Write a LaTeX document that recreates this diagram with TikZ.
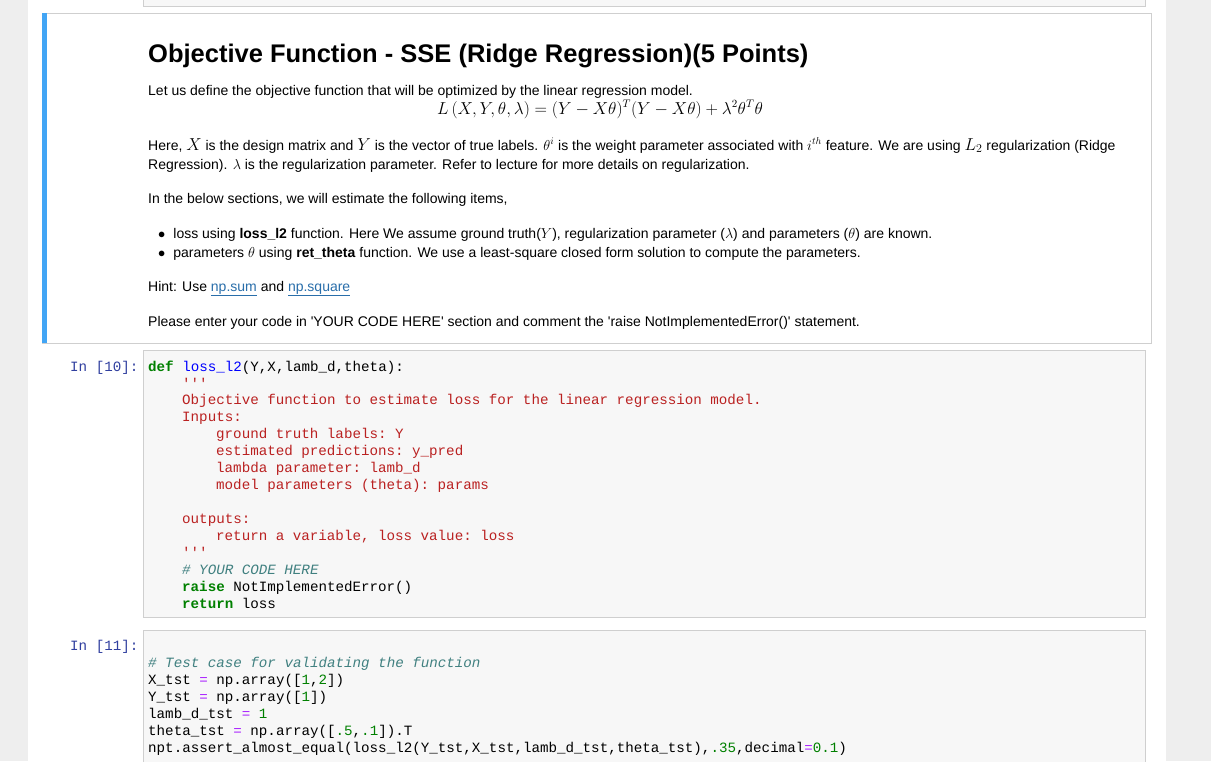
\documentclass[tikz,border=0pt]{standalone}
\usepackage{fontspec}
\setmainfont{Liberation Sans}
\setmonofont{Liberation Mono}
\definecolor{pagebg}{HTML}{EEEEEE}
\definecolor{cellbg}{HTML}{F7F7F7}
\definecolor{cellbd}{HTML}{CFCFCF}
\definecolor{kw}{HTML}{008000}
\definecolor{fn}{HTML}{0000FF}
\definecolor{doc}{HTML}{BA2121}
\definecolor{cmt}{HTML}{408080}
\definecolor{op}{HTML}{AA22FF}
\definecolor{prompt}{HTML}{303F9F}
\definecolor{lnk}{HTML}{296EAA}
\definecolor{bar}{HTML}{42A5F5}
\newcommand{\kw}[1]{\textcolor{kw}{\textbf{#1}}}
\newcommand{\op}[1]{\textcolor{op}{#1}}
\newcommand{\nm}[1]{\textcolor{kw}{#1}}
\newcommand{\sq}{\textquotesingle}
\tikzset{
  txt/.style={anchor=base west,inner sep=0pt,font=\fontsize{14}{17}\selectfont},
  code/.style={anchor=base west,inner sep=0pt,font=\fontsize{14.2}{17}\ttfamily},
  prm/.style={anchor=base west,inner sep=0pt,font=\fontsize{14.2}{17}\ttfamily,text=prompt},
  cellbox/.style={draw=cellbd,fill=cellbg,line width=0.8pt}
}
\begin{document}
\begin{tikzpicture}[x=1pt,y=-1pt]
\useasboundingbox (0,0) rectangle (1211,761);
\fill[pagebg] (0,0) rectangle (1211,761);
\fill[white] (28,0) rectangle (1166,761);
% top cell remnant
\draw[cellbox] (143,-5) rectangle (1145,6);
% markdown cell
\draw[draw=cellbd,fill=white,line width=0.8pt] (42,13) rectangle (1151,343);
\fill[bar] (42,13) rectangle (47,343);
\node[anchor=base west,inner sep=0pt,font=\fontsize{25.5}{30}\bfseries] (h) at (148,62) {Objective Function - SSE (Ridge Regression)(5 Points)};
\node[txt] (t1) at (148,95) {Let us define the objective function that will be optimized by the linear regression model.};
\node[anchor=base,inner sep=0pt,font=\fontsize{16}{19}\selectfont] (eq) at (600,114) {$L\left(X,Y,\theta,\lambda\right) = (Y-X\theta)^T(Y-X\theta)+\lambda^2\theta^T\theta$};
\node[txt] (t2) at (148,150) {Here, {\fontsize{17}{17}\selectfont$X$} is the design matrix and {\fontsize{17}{17}\selectfont$Y$} is the vector of true labels. $\theta^i$ is the weight parameter associated with $i^{th}$ feature. We are using {\fontsize{17}{17}\selectfont$L_2$} regularization (Ridge};
\node[txt] (t3) at (148,169) {Regression). $\lambda$ is the regularization parameter. Refer to lecture for more details on regularization.};
\node[txt] (t4) at (148,203) {In the below sections, we will estimate the following items,};
\node[txt] (b1) at (158,238) {$\bullet$\hspace{8pt}loss using \textbf{loss\_l2} function. Here We assume ground truth($Y$), regularization parameter ($\lambda$) and parameters ($\theta$) are known.};
\node[txt] (b2) at (158,257) {$\bullet$\hspace{8pt}parameters $\theta$ using \textbf{ret\_theta} function. We use a least-square closed form solution to compute the parameters.};
\node[txt] (t5) at (148,291) {Hint: Use \textcolor{lnk}{\underline{np.sum}} and \textcolor{lnk}{\underline{np.square}}};
\node[txt] (t6) at (148,326) {Please enter your code in \sq YOUR CODE HERE\sq{} section and comment the \sq raise NotImplementedError()\sq{} statement.};
% code cell 1
\draw[cellbox] (143,350) rectangle (1145,617);
\node[prm] (p1) at (70,371) {In [10]:};
\node[code] (c1) at (148,371) {\kw{def} \textcolor{fn}{loss\_l2}(Y,X,lamb\_d,theta):};
\begin{scope}[every node/.append style={text=doc}]
\node[code] (c2) at (182,388) {\sq\sq\sq};
\node[code] (c3) at (182,404) {Objective function to estimate loss for the linear regression model.};
\node[code] (c4) at (182,421) {Inputs:};
\node[code] (c5) at (216,438) {ground truth labels: Y};
\node[code] (c6) at (216,455) {estimated predictions: y\_pred};
\node[code] (c7) at (216,472) {lambda parameter: lamb\_d};
\node[code] (c8) at (216,489) {model parameters (theta): params};
\node[code] (c9) at (182,523) {outputs:};
\node[code] (c10) at (216,540) {return a variable, loss value: loss};
\node[code] (c11) at (182,557) {\sq\sq\sq};
\end{scope}
\node[code,text=cmt] (c12) at (182,574) {\itshape \# YOUR CODE HERE};
\node[code] (c13) at (182,591) {\kw{raise} NotImplementedError()};
\node[code] (c14) at (182,608) {\kw{return} loss};
% code cell 2
\draw[cellbox] (143,630) rectangle (1145,770);
\node[prm] (p2) at (70,650) {In [11]:};
\node[code,text=cmt] (d1) at (148,667) {\itshape \# Test case for validating the function};
\node[code] (d2) at (148,684) {X\_tst \op{=} np.array([\nm{1},\nm{2}])};
\node[code] (d3) at (148,701) {Y\_tst \op{=} np.array([\nm{1}])};
\node[code] (d4) at (148,718) {lamb\_d\_tst \op{=} \nm{1}};
\node[code] (d5) at (148,735) {theta\_tst \op{=} np.array([\nm{.5},\nm{.1}]).T};
\node[code] (d6) at (148,752) {npt.assert\_almost\_equal(loss\_l2(Y\_tst,X\_tst,lamb\_d\_tst,theta\_tst),\nm{.35},decimal\op{=}\nm{0.1})};
\end{tikzpicture}
\end{document}
